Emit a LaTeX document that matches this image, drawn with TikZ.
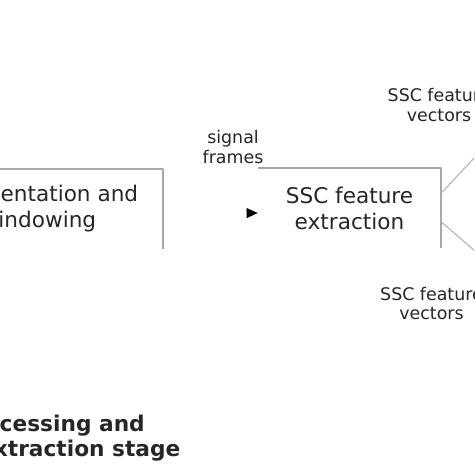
\documentclass[tikz,border=0pt]{standalone}
\usepackage{fontspec}
\setmainfont{DejaVu Sans}
\usetikzlibrary{arrows.meta}
\definecolor{edge}{HTML}{A8A8A8}
\definecolor{link}{HTML}{B8B8B8}
\definecolor{txt}{HTML}{262626}

\begin{document}
\begin{tikzpicture}[x=0.5pt,y=0.5pt,line join=round,
  stage/.style={minimum height=40pt,align=center,inner sep=0pt,text=txt,font=\fontsize{10.8}{13}\selectfont},
  note/.style={align=center,text=txt,font=\fontsize{8.7}{9.8}\selectfont},
  ttl/.style={align=center,text=txt,font=\bfseries\fontsize{10.85}{12.6}\selectfont},
  frame/.style={edge,line width=1pt},
  feed/.style={link,line width=0.6pt}]
  \useasboundingbox (0,0) rectangle (474,474);
  \clip (0,0) rectangle (474,474);

  % ===== stages =====
  \node[stage,minimum width=124.5pt] (segm) at (38.5,265) {Segmentation and\\windowing};
  \node[stage,minimum width=91.5pt] (ssc) at (349.5,266) {SSC feature\\extraction};

  % ===== frames between the stages =====
  \draw[white,-{Triangle[length=5.5pt,width=5pt,black]}] ([yshift=-2.5pt]segm.east) -- ([yshift=-2.5pt]ssc.west);
  \node[note] (frames) at (233,327) {signal\\frames};

  % box edges (top and right only)
  \draw[frame] (segm.north west) -- (segm.north east) -- (segm.south east);
  \draw[frame] (ssc.north west) -- (ssc.north east) -- (ssc.south east);

  % ===== feature vectors out =====
  \coordinate (vecup) at (490,333);
  \coordinate (vecdown) at (490,210);
  \draw[feed] ([yshift=7.5pt]ssc.east) -- (vecup);
  \draw[feed] ([yshift=-7pt]ssc.east) -- (vecdown);
  \node[note] (vecuptxt) at (439,369) {SSC feature\\vectors};
  \node[note] (vecdowntxt) at (431.5,170.5) {SSC feature\\vectors};

  % ===== stage title =====
  \node[ttl] (stagettl) at (31,36) {Preprocessing and\\feature extraction stage};
\end{tikzpicture}
\end{document}
